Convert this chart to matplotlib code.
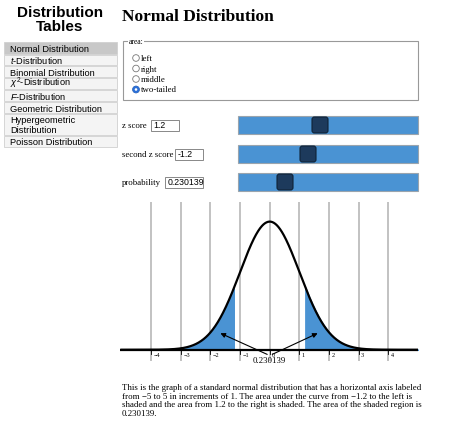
import numpy as np
import matplotlib
matplotlib.use("Agg")
from matplotlib import pyplot as plt
from matplotlib.patches import Rectangle, FancyBboxPatch, Circle

menu_items = ["Normal Distribution", "$t$-Distribution", "Binomial Distribution",
              "$\\chi^2$-Distribution", "$F$-Distribution", "Geometric Distribution",
              "Hypergeometric\nDistribution", "Poisson Distribution"]
area_options = ["left", "right", "middle", "two-tailed"]
z_score = 1.2
second_z = -1.2
probability = 0.230139
tick_values = [-4, -3, -2, -1, 0, 1, 2, 3, 4]

W, H = 474, 435
fig = plt.figure(figsize=(W / 100, H / 100), dpi=100)
page = fig.add_axes([0, 0, 1, 1])
page.set_xlim(0, W)
page.set_ylim(H, 0)
page.axis("off")

sans = "Liberation Sans"
serif = "Liberation Serif"
plt.rcParams["mathtext.fontset"] = "custom"
plt.rcParams["mathtext.it"] = "Liberation Sans:italic"
plt.rcParams["mathtext.rm"] = "Liberation Sans"

# sidebar
page.text(60, 20, "Distribution\nTables", ha="center", va="center", fontsize=11,
          fontweight="bold", family=sans, linespacing=1.05)
ys = [42, 55, 66, 78, 90, 102, 114, 136, 148]
for i, item in enumerate(menu_items):
    y0, y1 = ys[i], ys[i + 1]
    fc = "#c8c8c8" if i == 0 else "#f4f4f4"
    page.add_patch(Rectangle((4, y0 + 0.5), 113, y1 - y0 - 1, fc=fc, ec="#d0d0d0", lw=0.6))
    lines = item.split("\n")
    for j, ln in enumerate(lines):
        base = y1 - 2.5 - (len(lines) - 1 - j) * 10.5
        if "chi" in ln:
            base -= 1
        page.text(10, base, ln, va="baseline", fontsize=6.7, family=sans)

page.text(122, 17, "Normal Distribution", va="center", fontsize=12.5,
          fontweight="bold", family=serif)

# area box
page.add_patch(Rectangle((123, 42), 295, 59, fc="white", ec="#999999", lw=0.8))
page.text(129, 42, "area:", va="center", fontsize=5.5, family=serif,
          bbox=dict(fc="white", ec="none", pad=0.5))
for i, opt in enumerate(area_options):
    yy = 59 + i * 10.5
    sel = opt == "two-tailed"
    page.add_patch(Circle((136, yy), 3.3, fc="white", ec="#777777", lw=0.6))
    if sel:
        page.add_patch(Circle((136, yy), 3.3, fc="#2b6fd6", ec="#2b6fd6", lw=0.6))
        page.add_patch(Circle((136, yy), 1.3, fc="white", ec="none"))
    page.text(141, yy, opt, va="center", fontsize=6.3, family=serif)

# inputs and sliders
rows = [("z score", str(z_score), 126, 151, 28, 320),
        ("second z score", str(second_z), 155, 175, 28, 308),
        ("probability", str(probability), 183, 165, 38, 285)]
for label, val, yc, box_x, box_w, knob in rows:
    page.text(122, yc, label, va="center", fontsize=6.3, family=serif)
    page.add_patch(Rectangle((box_x, yc - 5.5), box_w, 11,
                             fc="white", ec="#888888", lw=0.7))
    page.text(box_x + 2.5, yc, val, va="center", fontsize=6.3, family=sans)
    page.add_patch(Rectangle((238, yc - 9), 180, 18, fc="#4a93d3", ec="#9aa4ad", lw=0.8))
    page.add_patch(FancyBboxPatch((knob - 8, yc - 8), 16, 16, boxstyle="round,pad=0,rounding_size=2.5",
                                  fc="#1d3a5c", ec="#0f2236", lw=0.8))

# chart
fx0, fx1, fy0, fy1 = 120, 418, 203, 362
ax = fig.add_axes([fx0 / W, 1 - fy1 / H, (fx1 - fx0) / W, (fy1 - fy0) / H])
ax.set_xlim(-5.05, 5.0)
ax.set_ylim(-0.035, 0.46)
ax.axis("off")
x = np.linspace(-5, 5, 801)
pdf = np.exp(-x ** 2 / 2) / np.sqrt(2 * np.pi)
for t in tick_values:
    ax.axvline(t, color="#b8b8b8", lw=1.2, zorder=1)
ax.fill_between(x, 0, pdf, where=x <= second_z, color="#4a93d3", zorder=2)
ax.fill_between(x, 0, pdf, where=x >= z_score, color="#4a93d3", zorder=2)
ax.axhline(0, color="black", lw=1.6, zorder=3)
ax.plot(x, pdf, color="black", lw=1.6, zorder=4)
for t in tick_values:
    ax.plot([t, t], [-0.012, 0.0], color="black", lw=0.6, zorder=4)
    lab = "\u2212%d" % -t if t < 0 else str(t)
    ax.text(t + 0.08, -0.006, lab, fontsize=4.5, family=serif, va="top", zorder=5)
ax.text(0, -0.02, "%.6f" % probability, ha="center", va="top", fontsize=6.3,
        family=serif, zorder=6)
for tx, ty in [(-1.75, 0.055), (1.7, 0.055)]:
    ax.annotate("", xy=(tx, ty), xytext=(0, -0.018),
                arrowprops=dict(arrowstyle="-|>", color="black", lw=0.8,
                                mutation_scale=7), zorder=6)

page.text(122, 401, "This is the graph of a standard normal distribution that has a horizontal axis labeled\n"
          "from \u22125 to 5 in increments of 1. The area under the curve from \u22121.2 to the left is\n"
          "shaded and the area from 1.2 to the right is shaded. The area of the shaded region is\n"
          "0.230139.", va="center", fontsize=6.4, family=serif, linespacing=1.12)

fig.savefig("out.png", dpi=100)
